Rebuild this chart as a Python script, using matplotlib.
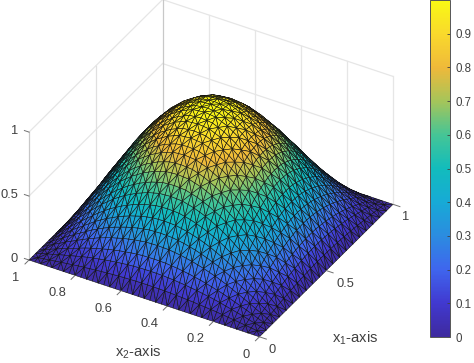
import numpy as np
import matplotlib
matplotlib.use("Agg")
import matplotlib.pyplot as plt
import matplotlib.tri as mtri
from matplotlib.colors import LinearSegmentedColormap
from mpl_toolkits.mplot3d import proj3d

# heights along one mesh line (edge to edge)
profile = [0, 0.08, 0.16, 0.23, 0.31, 0.38, 0.45, 0.52, 0.59, 0.65, 0.71,
           0.76, 0.81, 0.85, 0.89, 0.92, 0.95, 0.97, 0.99, 0.995, 1,
           0.995, 0.99, 0.97, 0.95, 0.92, 0.89, 0.85, 0.81, 0.76, 0.71,
           0.65, 0.59, 0.52, 0.45, 0.38, 0.31, 0.23, 0.16, 0.08, 0]

x1_ticks = [0, 0.5, 1]
x2_ticks = [0, 0.2, 0.4, 0.6, 0.8, 1]
z_ticks = [0, 0.5, 1]
cbar_ticks = [0, 0.1, 0.2, 0.3, 0.4, 0.5, 0.6, 0.7, 0.8, 0.9]
cbar_labels = ["0", "0.1", "0.2", "0.3", "0.4", "0.5", "0.6", "0.7", "0.8", "0.9"]

# colours
cmap_colors = ["#3e2a9e", "#4139d0", "#3f66ee", "#2b8ce0", "#17aad6", "#12bcbc",
               "#45c596", "#a5c55a", "#efb93a", "#f9d92c", "#f9f914"]

W, H = 474, 363
TXT = "#404040"

plt.rcParams["font.family"] = ["Liberation Sans", "DejaVu Sans"]
plt.rcParams["mathtext.default"] = "regular"

parula = LinearSegmentedColormap.from_list("parula_like", cmap_colors)

n = len(profile)
grid = np.arange(n) / (n - 1)
xx, yy = np.meshgrid(grid, grid, indexing="ij")
zz = np.outer(profile, profile)

# criss-cross triangles, the even nodes get eight edges
tris = []
for i in range(n - 1):
    for j in range(n - 1):
        a, b, c, d = i * n + j, (i + 1) * n + j, (i + 1) * n + j + 1, i * n + j + 1
        if (i + j) % 2 == 0:
            tris += [[a, b, c], [a, c, d]]
        else:
            tris += [[a, b, d], [b, c, d]]
tri = mtri.Triangulation(xx.ravel(), yy.ravel(), tris)

fig = plt.figure(figsize=(W / 100, H / 100), dpi=100)
ax = fig.add_axes([0.05, 0.05, 0.9, 0.9], projection="3d", proj_type="ortho")
ax.set_box_aspect((1, 1, 0.587))
ax.view_init(elev=35.1, azim=-149.9)
ax.set_xlim(0, 1)
ax.set_ylim(0, 1)
ax.set_zlim(0, 1)
ax.set_axis_off()
ax.patch.set_alpha(0)
ax.computed_zorder = False


def wall(xs, ys, zs, c="#e6e6e6", lw=0.9, zorder=1):
    ax.plot(xs, ys, zs, color=c, lw=lw, zorder=zorder, clip_on=False)


# walls behind the surface
for z in z_ticks[1:]:
    wall([0, 1], [1, 1], [z, z])
    wall([1, 1], [1, 0], [z, z])
for t in x1_ticks:
    wall([t, t], [1, 1], [0, 1], c="#c8c8c8" if t != 0.5 else "#e0e0e0")
for t in x2_ticks[:-1]:
    wall([1, 1], [t, t], [0, 1], c="#e6e6e6")

surf = ax.plot_trisurf(tri, zz.ravel(), cmap=parula, vmin=0, vmax=1,
                       edgecolor="#101010", linewidth=0.4, zorder=2)

# small tick marks on the box edges
for t in x1_ticks:
    wall([t, t], [0, -0.03], [0, 0], c="#707070", lw=0.7, zorder=3)
for t in x2_ticks:
    wall([0, -0.03], [t, t], [0, 0], c="#707070", lw=0.7, zorder=3)
for t in z_ticks:
    wall([0, 0], [1, 1.02], [t, t], c="#707070", lw=0.7, zorder=3)


def to_px(x, y, z):
    px, py, _ = proj3d.proj_transform(x, y, z, ax.get_proj())
    dx, dy = ax.transData.transform((px, py))
    return dx, H - dy


# fit the box on the figure: left corner and right corner of the floor
for _ in range(3):
    fig.canvas.draw()
    lx, ly = to_px(0, 1, 0)
    rx, ry = to_px(1, 0, 0)
    bb = ax.get_position()
    scale = (393 - 29) / (rx - lx)
    side = bb.width * W * scale
    cx = bb.x0 * W + bb.width * W / 2
    cy = H - (bb.y0 * H + bb.height * H / 2)
    new_cx = 29 + (cx - lx) * scale
    new_cy = 260 + (cy - ly) * scale
    ax.set_position([(new_cx - side / 2) / W, (H - new_cy - side / 2) / H,
                     side / W, side / H])
fig.canvas.draw()


def label(px, py, s, size=9.3, ha="center"):
    fig.text(px / W, 1 - py / H, s, fontsize=size, color=TXT, ha=ha, va="center")


for t in x2_ticks:
    px, py = to_px(0, t, 0)
    if t in (0, 1):
        label(px - 13, py + 18, f"{t:g}")
    else:
        label(px - 18, py + 18, f"{t:g}")
for t in x1_ticks:
    px, py = to_px(t, 0, 0)
    label(px + (19.5 if t == 0.5 else 13), py + 13, f"{t:g}")
for t in z_ticks:
    px, py = to_px(0, 1, t)
    label(18, py - 1, f"{t:g}", ha="right")

label(138, 352, "x$_2$-axis", size=10.6)
label(355, 338, "x$_1$-axis", size=10.6)

# colorbar runs off the top of the picture
cax = fig.add_axes([430 / W, 1 - 337 / H, 20 / W, 337 / H])
cb = fig.colorbar(surf, cax=cax)
cb.set_ticks(cbar_ticks)
cb.set_ticklabels(cbar_labels)
cax.tick_params(direction="in", length=2, width=0.6, color="#404040", labelsize=8.3,
                labelcolor=TXT, pad=4.3)
cb.outline.set_edgecolor("#555555")
cb.outline.set_linewidth(0.7)

fig.savefig("out.png", dpi=100)
